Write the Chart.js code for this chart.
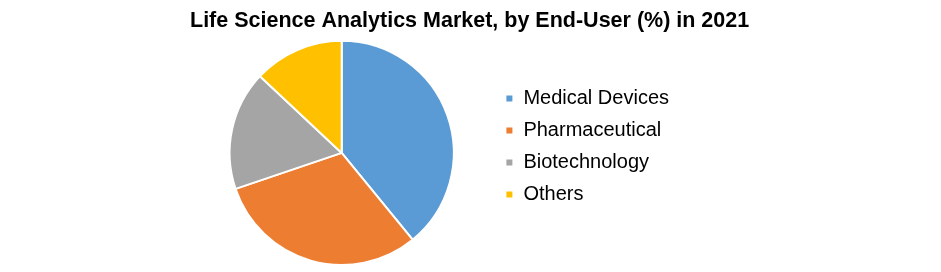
<!DOCTYPE html>
<html>
<head>
<meta charset="utf-8">
<title>Life Science Analytics Market</title>
<script src="https://cdn.jsdelivr.net/npm/chart.js@4/dist/chart.umd.min.js"></script>
<style>
	html, body { margin: 0; padding: 0; background: #fff; }
	#wrapper-chart { width: 941px; height: 272px; }
</style>
</head>
<body>
<div id="wrapper-chart"><canvas id="chart-1"></canvas></div>
<script>
var categories = ['Medical Devices', 'Pharmaceutical', 'Biotechnology', 'Others'];
var shares = [39.1, 30.7, 17.2, 13.0];
var colors = ['#5B9BD5', '#ED7D31', '#A5A5A5', '#FFC000'];

var app = (function(){
	var chart,
		fontFamily = '"Liberation Sans", Arial, sans-serif';

	// the title box ends where the right padding starts, which squeezes the text;
	// let it run to the canvas edge instead
	var wideTitle = {
		id: 'wideTitle',
		afterLayout: function(c){
			if(c.titleBlock){
				c.titleBlock.right = c.width;
				c.titleBlock.width = c.width - c.titleBlock.left;
			}
		}
	};

	function init(){
		_createChart();
	}

	function _createChart(){
		if(chart !== undefined){
			chart.destroy();
		}
		var chartData = {
			labels: categories,
			datasets: [{
				data: shares,
				backgroundColor: colors,
				borderColor: '#fff',
				borderWidth: 2
			}]
		};
		var ctx = document.getElementById('chart-1');
		chart = new Chart(ctx, {
			type: 'pie',
			data: chartData,
			plugins: [wideTitle],
			options: {
				responsive: true,
				maintainAspectRatio: false,
				animation: false,
				layout: {
					padding: { left: 190, right: 262, top: 8, bottom: 6 }
				},
				plugins: {
					title: {
						display: true,
						align: 'start',
						text: 'Life Science Analytics Market, by End-User (%) in 2021',
						color: '#000',
						font: { family: fontFamily, size: 21.5, weight: 'bold' },
						padding: { top: 0, bottom: 6 }
					},
					legend: {
						position: 'right',
						align: 'center',
						// empty title only pushes the items down a little
						title: {
							display: true,
							text: ' ',
							font: { size: 10, lineHeight: 1.9 }
						},
						labels: {
							boxWidth: 8,
							boxHeight: 8,
							padding: 12,
							color: '#000',
							font: { family: fontFamily, size: 20 }
						}
					},
					tooltip: { enabled: false }
				}
			}
		});
	}

	return {
		init: init
	};
})();

app.init();
</script>
</body>
</html>
